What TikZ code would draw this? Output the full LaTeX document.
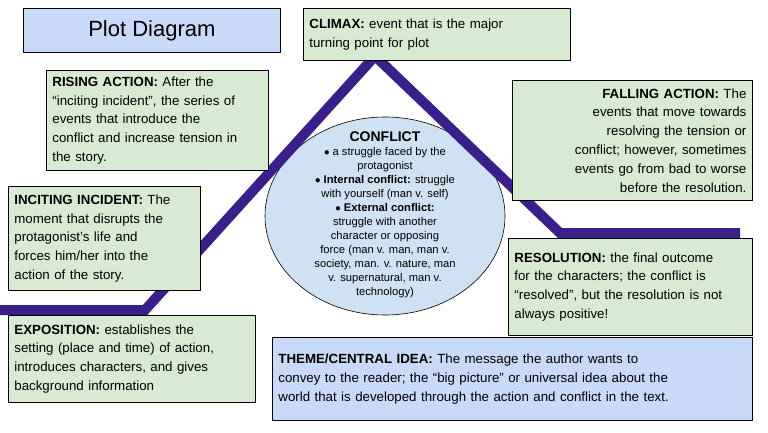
\documentclass[tikz,border=0pt]{standalone}
\usepackage{fontspec}
\setmainfont{Liberation Sans}
\usetikzlibrary{shapes.geometric}
\definecolor{gbox}{HTML}{D9EAD3}
\definecolor{bbox}{HTML}{C9DAF8}
\definecolor{circ}{HTML}{CFE2F3}
\definecolor{plum}{HTML}{3A1E8A}
\begin{document}
\begin{tikzpicture}[x=1pt,y=-1pt,
  box/.style={draw=black,line width=0.8pt,fill=gbox,anchor=north west,inner sep=6pt,font=\fontsize{13.3}{18.8}\selectfont,align=left}]
\useasboundingbox (0,0) rectangle (768,433);
\node[draw=black,line width=0.6pt,fill=circ,ellipse,minimum width=240pt,minimum height=198pt,inner sep=0pt] (c) at (385,216) {};
\node[font=\fontsize{11.2}{14}\selectfont,align=center,anchor=north] (ct) at (385,128) {{\fontsize{14}{17}\selectfont\bfseries CONFLICT}\\
$\bullet$ a struggle faced by the\\ protagonist\\
$\bullet$ \textbf{Internal conflict:} struggle\\ with yourself (man v. self)\\
$\bullet$ \textbf{External conflict:}\\ struggle with another\\ character or opposing\\ force (man v. man, man v.\\ society, man. v. nature, man\\ v. supernatural, man v.\\ technology)};
\coordinate (p0) at (0,310); \coordinate (p1) at (145,310); \coordinate (p2) at (375,56);
\coordinate (p3) at (560,233); \coordinate (p4) at (740,233);
\draw[plum,line width=10pt,line join=miter] (p0) -- (p1) -- (p2) -- (p3) -- (p4);
\node[draw=black,line width=0.8pt,fill=bbox,anchor=north west,minimum width=257pt,minimum height=44pt,font=\fontsize{22}{25}\selectfont] (title) at (23,8) {Plot Diagram};
\node[box,text width=255pt,minimum height=52pt] (climax) at (303,8) {\textbf{CLIMAX:} event that is the major\\ turning point for plot};
\node[box,text width=210pt,minimum height=100pt] (rise) at (46,70) {\textbf{RISING ACTION:} After the\\ “inciting incident”, the series of\\ events that introduce the\\ conflict and increase tension in\\ the story.};
\node[box,text width=228pt,minimum height=120pt,align=right] (fall) at (512,80) {\textbf{FALLING ACTION:} The\\ events that move towards\\ resolving the tension or\\ conflict; however, sometimes\\ events go from bad to worse\\ before the resolution.};
\node[box,text width=180pt,minimum height=104pt] (inc) at (8,186) {\textbf{INCITING INCIDENT:} The\\ moment that disrupts the\\ protagonist’s life and\\ forces him/her into the\\ action of the story.};
\node[box,text width=232pt,minimum height=97pt] (res) at (508,238) {\textbf{RESOLUTION:} the final outcome\\ for the characters; the conflict is\\ “resolved”, but the resolution is not\\ always positive!};
\node[box,text width=235pt,minimum height=87pt] (exp) at (8,315) {\textbf{EXPOSITION:} establishes the\\ setting (place and time) of action,\\ introduces characters, and gives\\ background information};
\node[box,fill=bbox,text width=468pt,minimum height=83pt] (theme) at (272,337) {\textbf{THEME/CENTRAL IDEA:} The message the author wants to\\ convey to the reader; the “big picture” or universal idea about the\\ world that is developed through the action and conflict in the text.};
\end{tikzpicture}
\end{document}
